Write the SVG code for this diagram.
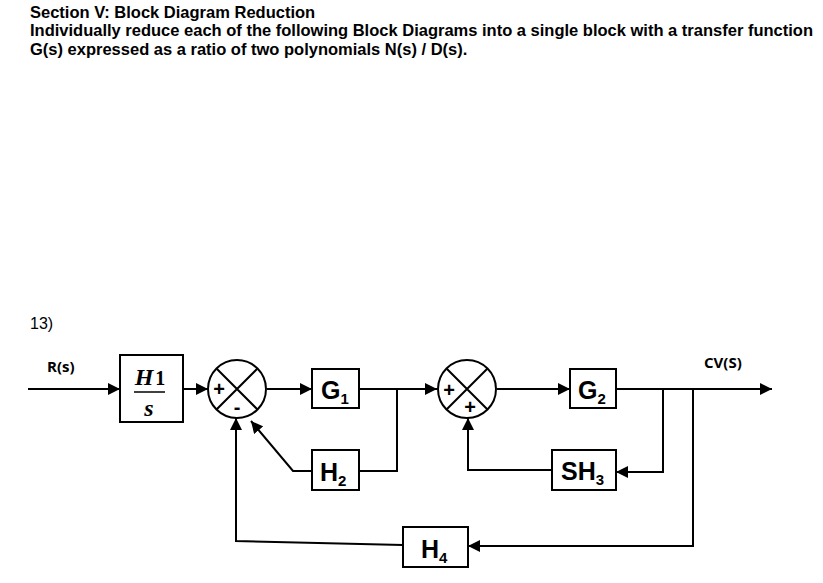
<svg xmlns="http://www.w3.org/2000/svg" width="823" height="583" viewBox="0 0 823 583">
<defs>
<marker id="a" viewBox="0 0 10 10" refX="10" refY="5" markerWidth="12" markerHeight="12" markerUnits="userSpaceOnUse" orient="auto"><path d="M0,0L10,5L0,10z" fill="#000"/></marker>
</defs>
<style>
.t{font-family:"Liberation Sans",Arial,sans-serif;font-weight:bold;font-size:16.5px}
.p{font-family:"Liberation Sans",Arial,sans-serif;font-weight:bold;font-size:20px}
.b{fill:#fff;stroke:#000;stroke-width:2}
.l{fill:none;stroke:#000;stroke-width:2}
.bl{font-family:"Liberation Sans",Arial,sans-serif;font-weight:bold;font-size:25px}
.sub{font-size:15px}
.sm{font-family:"Open Sans","DejaVu Sans",sans-serif;font-weight:bold;font-size:15px}
</style>
<rect width="823" height="583" fill="#fff"/>
<text class="t" x="30" y="18">Section V:  Block Diagram Reduction</text>
<text class="t" x="30" y="36">Individually reduce each of the following Block Diagrams into a single block with a transfer function</text>
<text class="t" x="30" y="55">G(s) expressed as a ratio of two polynomials N(s) / D(s).</text>
<text x="30" y="329" font-family="Liberation Sans,Arial,sans-serif" font-size="16">13)</text>
<text class="sm" x="47" y="372">R(s)</text>
<text class="sm" x="704" y="368">CV(S)</text>
<g id="connectors" class="l">
<path d="M28,389H120" marker-end="url(#a)"/>
<path d="M183,389H208" marker-end="url(#a)"/>
<path d="M267,389H312" marker-end="url(#a)"/>
<path d="M359,389H437" marker-end="url(#a)"/>
<path d="M397,389V471H359"/>
<path d="M312,471H293L251,421" marker-end="url(#a)"/>
<path d="M497,389H570" marker-end="url(#a)"/>
<path d="M616,389H772" marker-end="url(#a)"/>
<path d="M663,389V472H616" marker-end="url(#a)"/>
<path d="M552,470H468V418" marker-end="url(#a)"/>
<path d="M693,389V546H468" marker-end="url(#a)"/>
<path d="M403,545L236,541V418" marker-end="url(#a)"/>
</g>
<g id="H1s"><rect class="b" x="120" y="355" width="63" height="67"/>
<text x="150" y="385" text-anchor="middle" font-family="Liberation Serif,serif" font-style="italic" font-weight="bold" font-size="24">H<tspan font-style="normal" font-size="20" dx="2">1</tspan></text>
<line x1="134" y1="392" x2="165" y2="392" stroke="#000" stroke-width="1.5"/>
<text x="149" y="416" text-anchor="middle" font-family="Liberation Serif,serif" font-style="italic" font-weight="bold" font-size="24">s</text></g>
<g id="sum1"><circle class="b" cx="237" cy="389" r="29"/>
<path class="l" d="M216.5,368.5L257.5,409.5M257.5,368.5L216.5,409.5" stroke-width="1.5"/>
<text class="p" x="219" y="396" text-anchor="middle">+</text>
<text class="p" x="237" y="414" text-anchor="middle">-</text></g>
<g id="G1"><rect class="b" x="312" y="369" width="47" height="39"/><text class="bl" x="321" y="399">G<tspan class="sub" dy="5">1</tspan></text></g>
<g id="H2"><rect class="b" x="312" y="450" width="47" height="40"/><text class="bl" x="320" y="481">H<tspan class="sub" dy="5">2</tspan></text></g>
<g id="sum2"><circle class="b" cx="467" cy="389" r="29"/>
<path class="l" d="M446.5,368.5L487.5,409.5M487.5,368.5L446.5,409.5" stroke-width="1.5"/>
<text class="p" x="449" y="397" text-anchor="middle">+</text>
<text class="p" x="470" y="414" text-anchor="middle">+</text></g>
<g id="G2"><rect class="b" x="570" y="369" width="46" height="39"/><text class="bl" x="578" y="399">G<tspan class="sub" dy="5">2</tspan></text></g>
<g id="SH3"><rect class="b" x="552" y="450" width="64" height="40"/><text class="bl" x="561" y="480">SH<tspan class="sub" dy="5">3</tspan></text></g>
<g id="H4"><rect class="b" x="403" y="527" width="65" height="40"/><text class="bl" x="421" y="558">H<tspan class="sub" dy="5">4</tspan></text></g>
</svg>
